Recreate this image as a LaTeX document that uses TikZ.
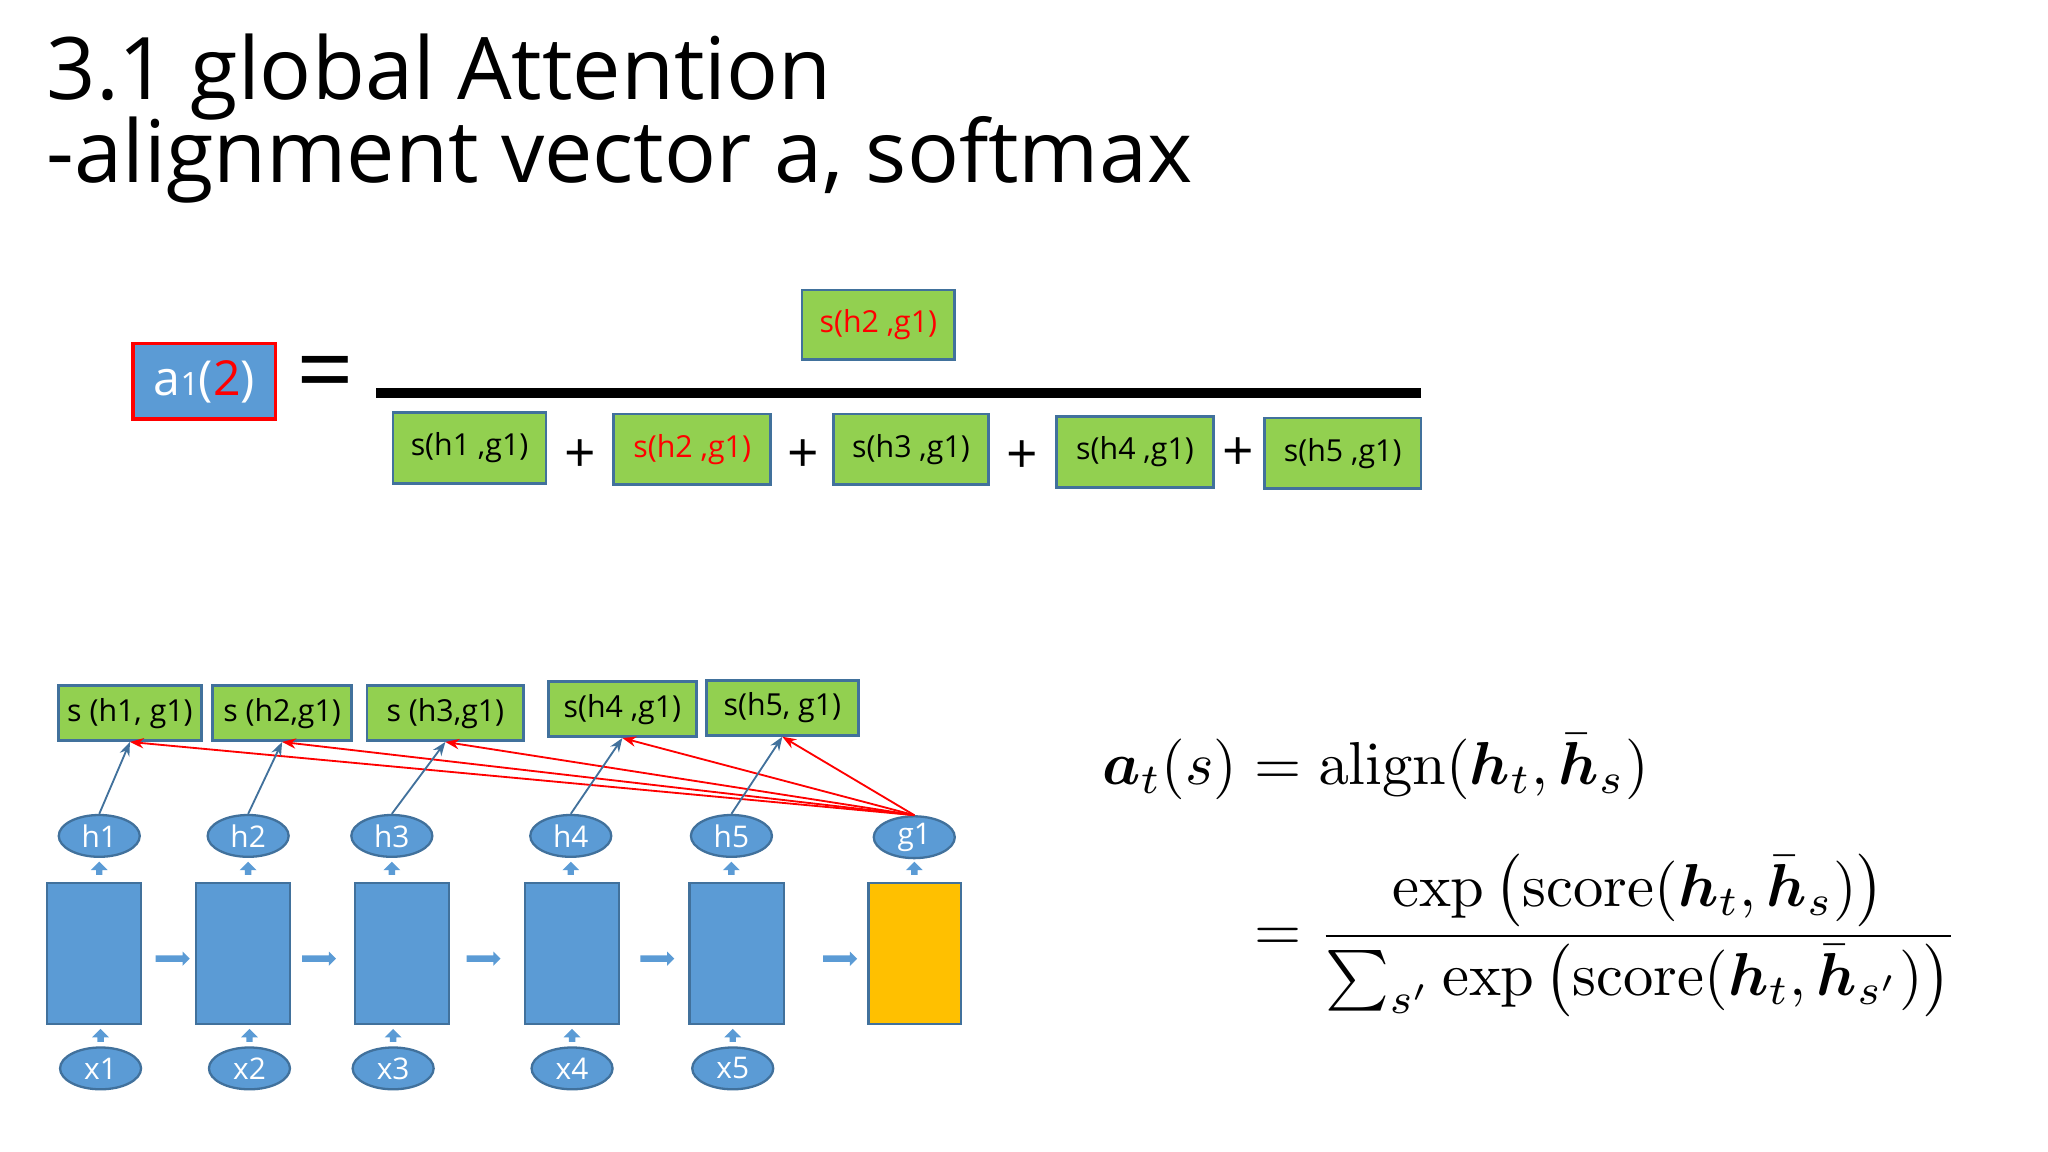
\documentclass[tikz,border=0pt]{standalone}
\usepackage{amsmath,bm}
\usepackage[no-math]{fontspec}
\setmainfont{Open Sans}
\usetikzlibrary{arrows.meta,shapes.arrows,shapes.geometric}
\definecolor{gr}{HTML}{92D050}
\definecolor{gb}{HTML}{41719C}
\definecolor{bl}{HTML}{5B9BD5}
\definecolor{ye}{HTML}{FFC000}
\begin{document}
\begin{tikzpicture}[x=0.01cm,y=-0.01cm,
  sbox/.style={draw=gb,fill=gr,line width=0.6pt,inner sep=0pt,font=\fontsize{6.6pt}{8pt}\selectfont},
  bbox/.style={sbox,font=\fontsize{6.6pt}{8pt}\selectfont},
  rbox/.style={draw=gb,fill=bl,line width=0.5pt},
  ell/.style={ellipse,draw=gb,fill=bl,line width=0.5pt,minimum width=0.62cm,minimum height=0.32cm,inner sep=0pt,text=white,font=\fontsize{6.5pt}{8pt}\selectfont},
  uparr/.style={single arrow,shape border rotate=90,fill=bl,draw=none,minimum height=0.1cm,minimum width=0.1cm,single arrow head extend=0.04cm,inner sep=0.5pt},
  rarr/.style={single arrow,fill=bl,draw=none,minimum height=0.26cm,minimum width=0.1cm,single arrow head extend=0.03cm,inner sep=0.5pt},
  pl/.style={font=\fontsize{12pt}{12pt}\selectfont}]
\useasboundingbox (0,0) rectangle (1568,882);
% title
\node[anchor=base west,inner sep=0,font=\fontsize{18.8pt}{20pt}\selectfont] at (35,76) {3.1 global Attention};
\node[anchor=base west,inner sep=0,font=\fontsize{18.8pt}{20pt}\selectfont] at (35,140) {-alignment vector a, softmax};
% equation
\node[draw=red,fill=bl,line width=0.8pt,minimum width=1.09cm,minimum height=0.58cm,inner sep=0,text=white,font=\fontsize{10.5pt}{12pt}\selectfont] (a) at (156.5,292) {a{\fontsize{7pt}{8pt}\selectfont 1}(\textcolor{red}{2})};
\node[font=\fontsize{22pt}{22pt}\selectfont,inner sep=0] (eq) at (249,292) {=};
\draw[line width=2.2pt] (288,301) -- (1088,301);
\node[bbox,minimum width=1.17cm,minimum height=0.53cm] (num) at (672.5,248.5) {\textcolor{red}{s(h2 ,g1)}};
\node[bbox,minimum width=1.17cm,minimum height=0.54cm] (d1) at (359.5,343) {s(h1 ,g1)};
\node[bbox,minimum width=1.20cm,minimum height=0.54cm] (d2) at (530,344) {\textcolor{red}{s(h2 ,g1)}};
\node[bbox,minimum width=1.19cm,minimum height=0.54cm] (d3) at (697.5,344) {s(h3 ,g1)};
\node[bbox,minimum width=1.20cm,minimum height=0.54cm] (d4) at (869,346) {s(h4 ,g1)};
\node[bbox,minimum width=1.20cm,minimum height=0.54cm] (d5) at (1028,347) {s(h5 ,g1)};
\node[pl] at (444,349) {+};
\node[pl] at (615,349) {+};
\node[pl] at (783,350) {+};
\node[pl] at (948,348) {+};
% bottom network
\foreach \n/\cx/\cy/\w/\t in {s1/99.5/546/1.09/{s (h1, g1)},s2/216/546/1.06/{s (h2,g1)},s3/341/546/1.20/{s (h3,g1)},s4/476.5/543/1.13/{s(h4 ,g1)},s5/599/542/1.16/{s(h5, g1)}}
  \node[sbox,minimum width=\w cm,minimum height=0.42cm] (\n) at (\cx,\cy) {\t};
\foreach \i/\x/\hx/\xx in {1/72/76/77,2/186/190/191,3/308/300/301,4/438/437/438,5/564/560/561}{
  \node[rbox,minimum width=0.72cm,minimum height=1.08cm,inner sep=0] (r\i) at (\x,730) {};
  \node[ell] (h\i) at (\hx,640) {h\i};
  \node[ell] (x\i) at (\xx,818) {x\i};
  \node[uparr] at (\hx,666) {};
  \node[uparr] at (\xx,794) {};
}
\node[draw=gb,fill=ye,line width=0.5pt,minimum width=0.71cm,minimum height=1.08cm,inner sep=0] (g) at (700.5,730) {};
\node[ell] (g1) at (700,641) {g1};
\node[uparr] at (700,666) {};
\foreach \x in {131,243,369,502,642}\node[rarr] at (\x,734) {};
\foreach \i in {1,...,5}{
  \draw[gb,line width=0.4pt,-{Stealth[length=3pt]}] (h\i.north) -- (s\i.south);
  \draw[red,line width=0.4pt,-{Stealth[length=3pt]}] (g1.north) -- (s\i.south);
}
% formula
\node[anchor=west,inner sep=0,scale=1.32] at (843,670) {$\begin{aligned}
\bm{a}_t(s) &= \mathrm{align}(\bm{h}_t,\bar{\bm{h}}_s)\\[4pt]
&= \frac{\mathrm{exp}\left(\mathrm{score}(\bm{h}_t,\bar{\bm{h}}_s)\right)}{\sum_{s'}\mathrm{exp}\left(\mathrm{score}(\bm{h}_t,\bar{\bm{h}}_{s'})\right)}
\end{aligned}$};
\end{tikzpicture}
\end{document}
